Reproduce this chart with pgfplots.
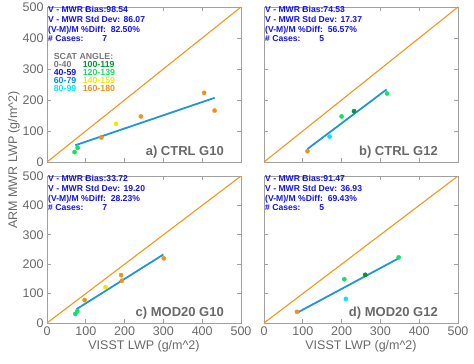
\documentclass[border=0pt]{standalone}
\usepackage{pgfplots}
\pgfplotsset{compat=1.18}
\usepackage{fontspec}
\setmainfont{Liberation Sans}
\definecolor{axgray}{RGB}{160,160,160}
\definecolor{labgray}{RGB}{105,105,105}
\definecolor{diagor}{RGB}{242,150,30}
\definecolor{fitblue}{RGB}{30,150,215}
\definecolor{txtblue}{RGB}{20,20,230}
\definecolor{cgray}{RGB}{120,120,120}
\definecolor{cblue}{RGB}{20,20,220}
\definecolor{cmblue}{RGB}{0,140,225}
\definecolor{ccyan}{RGB}{0,230,255}
\definecolor{cdgreen}{RGB}{0,150,50}
\definecolor{clgreen}{RGB}{20,225,100}
\definecolor{cyellow}{RGB}{245,230,0}
\definecolor{corange}{RGB}{240,145,30}
\pgfplotsset{
  panel/.style={
    width=194pt, scale only axis,
    xmin=0, xmax=500, ymin=0, ymax=500,
    xtick={0,100,...,500}, ytick={0,100,...,500},
    tick align=inside, major tick length=4pt,
    axis line style={axgray, line width=0.7pt},
    tick style={axgray, line width=0.7pt},
    ticklabel style={text=labgray, font=\fontsize{12.5}{12.5}\selectfont},
    /pgf/number format/assume math mode=true,
    xlabel style={text=labgray, font=\fontsize{12.5}{12.5}\selectfont, yshift=2pt},
  },
  pts/.style={only marks, mark=*, mark size=2.1pt, mark options={draw=#1, fill=#1}},
  diag/.style={diagor, line width=1.1pt, no marks},
  fit/.style={fitblue, line width=1.8pt, no marks},
}
\newcommand{\stats}[5]{\node[anchor=north west, inner sep=0pt, align=left, text=txtblue,
  font=\bfseries\fontsize{8.6}{9.8}\selectfont] at (#1.north west) [xshift=1pt, yshift=1pt]
  {V - MWR Bias:#2\\V - MWR Std Dev: #3\\(V-M)/M \%Diff:\ \ #4\%\\\# Cases:\hspace{2.2em}#5};}
\newcommand{\plabel}[2]{\node[anchor=south east, inner sep=0pt, text=labgray,
  font=\bfseries\fontsize{13}{13}\selectfont] at (rel axis cs:1,0) [xshift=-#2, yshift=4pt] {#1};}
\begin{document}
\begin{tikzpicture}
\path[use as bounding box] (0,0) rectangle (474pt,364pt);
% a
\begin{axis}[name=pa, panel, height=155pt, at={(47pt,202pt)}, anchor=south west, xticklabels={}]
\addplot[diag] coordinates {(0,0) (500,500)};
\addplot[fit] coordinates {(73,54) (432,207)};
\addplot[pts=clgreen] coordinates {(71,32) (79,46)};
\addplot[pts=corange] coordinates {(140,79) (242,147) (405,223) (432,166)};
\addplot[pts=cyellow] coordinates {(178,123)};
\node[anchor=north west, inner sep=0pt, align=left, font=\bfseries\fontsize{8.8}{8.1}\selectfont]
  at (axis cs:17,352) {\textcolor{cgray}{SCAT ANGLE:}\\
  \makebox[29pt][l]{\textcolor{cgray}{0-40}}\textcolor{cdgreen}{100-119}\\
  \makebox[29pt][l]{\textcolor{cblue}{40-59}}\textcolor{clgreen}{120-139}\\
  \makebox[29pt][l]{\textcolor{cmblue}{60-79}}\textcolor{cyellow}{140-159}\\
  \makebox[29pt][l]{\textcolor{ccyan}{80-99}}\textcolor{corange}{160-180}};
\plabel{a) CTRL G10}{17pt}
\end{axis}
% b
\begin{axis}[name=pb, panel, height=155pt, at={(264pt,202pt)}, anchor=south west, xticklabels={}, yticklabels={}]
\addplot[diag] coordinates {(0,0) (500,500)};
\addplot[fit] coordinates {(112,42) (316,234)};
\addplot[pts=corange] coordinates {(112,35)};
\addplot[pts=ccyan] coordinates {(169,82)};
\addplot[pts=clgreen] coordinates {(200,147) (317,221)};
\addplot[pts=cdgreen] coordinates {(232,164)};
\plabel{b) CTRL G12}{20pt}
\end{axis}
% c
\begin{axis}[name=pc, panel, height=147pt, at={(47pt,41pt)}, anchor=south west, xlabel={VISST LWP (g/m\textasciicircum 2)}]
\addplot[diag] coordinates {(0,0) (500,500)};
\addplot[fit] coordinates {(76,47) (300,233)};
\addplot[pts=clgreen] coordinates {(73,31) (78,40)};
\addplot[pts=corange] coordinates {(97,78) (191,163) (193,144) (301,220)};
\addplot[pts=cyellow] coordinates {(151,122)};
\plabel{c) MOD20 G10}{17pt}
\end{axis}
% d
\begin{axis}[name=pd, panel, height=147pt, at={(264pt,41pt)}, anchor=south west, yticklabels={}, xlabel={VISST LWP (g/m\textasciicircum 2)}]
\addplot[diag] coordinates {(0,0) (500,500)};
\addplot[fit] coordinates {(87,36) (347,220)};
\addplot[pts=corange] coordinates {(85,38)};
\addplot[pts=ccyan] coordinates {(211,82)};
\addplot[pts=clgreen] coordinates {(207,149) (347,223)};
\addplot[pts=cdgreen] coordinates {(261,164)};
\plabel{d) MOD20 G12}{20pt}
\end{axis}
\stats{pa}{98.54}{86.07}{82.50}{7}
\stats{pb}{74.53}{17.37}{56.57}{5}
\stats{pc}{33.72}{19.20}{28.23}{7}
\stats{pd}{91.47}{36.93}{69.43}{5}
\node[rotate=90, text=labgray, font=\fontsize{12.5}{12.5}\selectfont] at (14pt,204pt) {ARM MWR LWP (g/m\textasciicircum 2)};
\end{tikzpicture}
\end{document}
